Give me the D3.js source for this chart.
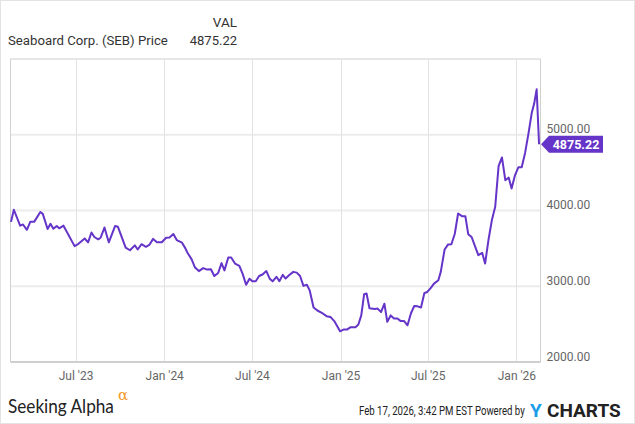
<!DOCTYPE html>
<html>
<head>
<meta charset="utf-8">
<script src="https://cdn.jsdelivr.net/npm/d3@7"></script>
<style>
  html, body { margin: 0; padding: 0; background: #fff; }
  svg { display: block; font-family: Roboto, "Noto Sans", sans-serif; }
</style>
</head>
<body>
<div id="chart"></div>
<script>
// weekly closes
const dates = [
  '2023-02-17','2023-02-23','2023-03-08','2023-03-14','2023-03-22','2023-03-29','2023-04-06','2023-04-19','2023-04-24',
  '2023-05-04','2023-05-10','2023-05-16','2023-05-23','2023-05-28','2023-06-06','2023-06-29','2023-07-07','2023-07-20',
  '2023-07-27','2023-08-03','2023-08-09','2023-08-17','2023-08-22','2023-08-30','2023-09-08','2023-09-21','2023-09-27',
  '2023-10-13','2023-10-22','2023-11-01','2023-11-07','2023-11-15','2023-11-24','2023-12-01','2023-12-09','2023-12-17',
  '2023-12-27','2024-01-05','2024-01-12','2024-01-20','2024-01-27','2024-02-07','2024-02-14','2024-02-18','2024-02-27',
  '2024-03-05','2024-03-13','2024-03-22','2024-03-30','2024-04-07','2024-04-14','2024-04-22','2024-04-29','2024-05-05',
  '2024-05-13','2024-05-19','2024-05-27','2024-06-05','2024-06-12','2024-06-19','2024-06-26','2024-07-02','2024-07-09',
  '2024-07-16','2024-07-23','2024-07-31','2024-08-07','2024-08-13','2024-08-21','2024-08-27','2024-09-03','2024-09-09',
  '2024-09-16','2024-09-25','2024-10-02','2024-10-09','2024-10-16','2024-10-23','2024-10-29','2024-11-06','2024-11-14',
  '2024-11-23','2024-12-03','2024-12-11','2024-12-19','2024-12-24','2024-12-31','2025-01-08','2025-01-15','2025-01-22',
  '2025-02-01','2025-02-07','2025-02-13','2025-02-19','2025-02-24','2025-03-02','2025-03-13','2025-03-19','2025-03-26',
  '2025-04-02','2025-04-08','2025-04-15','2025-04-22','2025-04-29','2025-05-06','2025-05-13','2025-05-20','2025-05-27',
  '2025-06-03','2025-06-10','2025-06-17','2025-06-24','2025-06-29','2025-07-07','2025-07-14','2025-07-23','2025-07-28',
  '2025-08-05','2025-08-12','2025-08-19','2025-08-26','2025-09-02','2025-09-10','2025-09-17','2025-09-23','2025-09-30',
  '2025-10-07','2025-10-14','2025-10-22','2025-10-28','2025-11-04','2025-11-11','2025-11-18','2025-11-25','2025-12-02',
  '2025-12-09','2025-12-16','2025-12-22','2025-12-29','2026-01-05','2026-01-12','2026-01-19','2026-01-26','2026-02-02',
  '2026-02-07','2026-02-12','2026-02-17'
];
const prices = [
  3850, 4010, 3800, 3815, 3745, 3850, 3850, 3980, 3955,
  3755, 3825, 3760, 3795, 3765, 3800, 3530, 3560, 3630,
  3580, 3710, 3650, 3620, 3640, 3775, 3580, 3795, 3785,
  3510, 3475, 3540, 3485, 3555, 3520, 3545, 3625, 3580,
  3580, 3640, 3645, 3690, 3610, 3575, 3500, 3445, 3355,
  3247, 3200, 3240, 3220, 3225, 3135, 3175, 3305, 3210,
  3380, 3380, 3300, 3270, 3160, 3020, 3100, 3065, 3065,
  3135, 3155, 3200, 3100, 3065, 3125, 3066, 3150, 3102,
  3145, 3190, 3180, 3135, 3005, 3020, 2945, 2720, 2680,
  2650, 2605, 2595, 2540, 2485, 2405, 2430, 2430, 2460,
  2460, 2495, 2615, 2895, 2905, 2710, 2700, 2705, 2660,
  2770, 2530, 2615, 2575, 2575, 2540, 2540, 2485, 2640,
  2740, 2735, 2720, 2910, 2920, 2975, 3035, 3080, 3190,
  3485, 3550, 3555, 3690, 3960, 3925, 3925, 3687, 3650,
  3530, 3410, 3440, 3300, 3610, 3870, 4050, 4585, 4700,
  4400, 4435, 4290, 4465, 4570, 4570, 4760, 5015, 5295,
  5415, 5600, 4875.22
];
const lastValue = 4875.22;
const seriesName = 'Seaboard Corp. (SEB) Price';

const xTickDates = ['2023-07-01','2024-01-01','2024-07-01','2025-01-01','2025-07-01','2026-01-01'];
const xTickLabels = ["Jul '23", "Jan '24", "Jul '24", "Jan '25", "Jul '25", "Jan '26"];
const yTicks = [2000, 3000, 4000, 5000];

const W = 635, H = 424;
const plot = { left: 10.5, right: 540.5, top: 59, bottom: 362 };
const purple = '#6534c8';
const parse = d3.timeParse('%Y-%m-%d');

const data = dates.map((d, i) => ({ date: parse(d), value: prices[i] }));

const svg = d3.select('#chart').append('svg').attr('width', W).attr('height', H);

// squeeze a text horizontally so it spans `width` px from (x, y)
function fitText(sel, x, y, width) {
  const len = sel.node().getComputedTextLength();
  sel.attr('x', 0).attr('y', 0)
     .attr('transform', 'translate(' + x + ',' + y + ') scale(' + Math.min(1, width / len) + ',1)');
  return sel;
}

// outer frame
svg.append('rect')
  .attr('x', 0.5).attr('y', 0.5).attr('width', W - 1).attr('height', H - 1)
  .attr('fill', '#fff').attr('stroke', '#e3e3e3');

const x = d3.scaleTime()
  .domain([parse('2023-02-16'), parse('2026-02-20')])
  .range([plot.left, plot.right]);
const y = d3.scaleLinear()
  .domain([2000, 6000])
  .range([plot.bottom, plot.top]);

// header
const header = svg.append('g').attr('fill', '#333').style('font-size', '13.5px');
header.append('text').attr('x', 237).attr('y', 27).attr('text-anchor', 'end').text('VAL');
fitText(header.append('text').text(seriesName), 8, 45, 160);
header.append('text').attr('x', 237).attr('y', 45).attr('text-anchor', 'end')
  .style('font-size', '13px')
  .text(d3.format('.2f')(lastValue));

// grid
const grid = svg.append('g');
grid.selectAll('line.h').data(yTicks.slice(1)).enter().append('line')
  .attr('class', 'h')
  .attr('x1', plot.left).attr('x2', plot.right)
  .attr('y1', d => y(d)).attr('y2', d => y(d))
  .attr('stroke', '#ececec').attr('stroke-width', 2);
grid.selectAll('line.v').data(xTickDates).enter().append('line')
  .attr('class', 'v')
  .attr('x1', d => Math.round(x(parse(d))) + 0.5).attr('x2', d => Math.round(x(parse(d))) + 0.5)
  .attr('y1', plot.top).attr('y2', plot.bottom)
  .attr('stroke', '#e2e2e2').attr('stroke-width', 1);

// plot frame
grid.append('line')
  .attr('x1', plot.left).attr('x2', plot.right).attr('y1', plot.top).attr('y2', plot.top)
  .attr('stroke', '#e6e6e6').attr('stroke-width', 2);
grid.append('line')
  .attr('x1', plot.right).attr('x2', plot.right).attr('y1', plot.top).attr('y2', plot.bottom)
  .attr('stroke', '#d0d0d0').attr('stroke-width', 1);
grid.append('line')
  .attr('x1', plot.left).attr('x2', plot.left).attr('y1', plot.top).attr('y2', plot.bottom)
  .attr('stroke', '#d0d0d0').attr('stroke-width', 1);
grid.append('line')
  .attr('x1', plot.left).attr('x2', plot.right).attr('y1', plot.bottom).attr('y2', plot.bottom)
  .attr('stroke', '#cfcfcf').attr('stroke-width', 2);

// axes labels
const xAxis = d3.axisBottom(x)
  .tickValues(xTickDates.map(parse))
  .tickFormat((d, i) => xTickLabels[i])
  .tickSize(0).tickPadding(9);
svg.append('g')
  .attr('transform', 'translate(0,' + plot.bottom + ')')
  .call(xAxis)
  .call(g => g.select('.domain').remove())
  .call(g => g.selectAll('text').attr('fill', '#666').style('font-size', '12px').style('font-family', 'Roboto'));

const yAxis = d3.axisRight(y)
  .tickValues(yTicks)
  .tickFormat(d3.format('.2f'))
  .tickSize(0).tickPadding(6);
svg.append('g')
  .attr('transform', 'translate(' + plot.right + ',0)')
  .call(yAxis)
  .call(g => g.select('.domain').remove())
  .call(g => g.selectAll('text').attr('fill', '#666').attr('dy', '-0.15em')
    .style('font-size', '12px').style('font-family', 'Roboto'));

// price line
const line = d3.line()
  .x(d => x(d.date))
  .y(d => y(d.value));

svg.append('path')
  .datum(data)
  .attr('d', line)
  .attr('fill', 'none')
  .attr('stroke', purple)
  .attr('stroke-width', 2)
  .attr('stroke-linejoin', 'round');

// last value flag
const fy = y(lastValue);
const flag = svg.append('g').attr('transform', 'translate(' + (plot.right + 0.5) + ',' + fy + ')');
flag.append('path')
  .attr('d', 'M0,0 L8,-8.5 L62,-8.5 L62,8.5 L8,8.5 Z')
  .attr('fill', purple);
flag.append('text')
  .attr('x', 35).attr('y', 4.5)
  .attr('text-anchor', 'middle')
  .attr('fill', '#fff')
  .style('font-size', '12.5px').style('font-weight', 'bold')
  .text(d3.format('.2f')(lastValue));

// footer
const footer = svg.append('g');
fitText(footer.append('text')
  .attr('fill', '#222')
  .style('font-family', 'Lato, "Open Sans", sans-serif')
  .style('font-size', '20px')
  .text('Seeking Alpha'), 8, 413, 106);
footer.append('text')
  .attr('x', 118).attr('y', 400)
  .attr('fill', '#f39a2c')
  .style('font-family', '"DejaVu Serif", serif')
  .style('font-size', '15px')
  .text('α');

fitText(footer.append('text')
  .attr('fill', '#222')
  .style('font-size', '12px')
  .text('Feb 17, 2026, 3:42 PM EST Powered by'), 359, 415, 166);

footer.append('text')
  .attr('x', 530).attr('y', 417)
  .attr('fill', '#1a9ce8')
  .style('font-size', '19px').style('font-weight', 'bold')
  .text('Y');
fitText(footer.append('text')
  .attr('fill', '#222')
  .style('font-size', '19px').style('font-weight', 'bold')
  .text('CHARTS'), 547, 417, 78);
</script>
</body>
</html>
